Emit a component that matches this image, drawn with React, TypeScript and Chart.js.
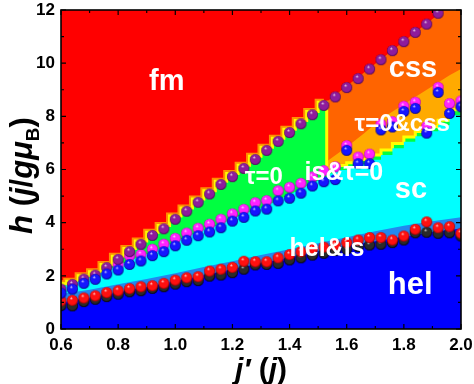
import React, { useEffect, useRef } from 'react';
import { Chart, registerables } from 'chart.js';

Chart.register(...registerables);

// ---------- data ----------
const xGrid = [0.60,0.64,0.68,0.72,0.76,0.80,0.84,0.88,0.92,0.96,1.00,1.04,1.08,1.12,1.16,1.20,1.24,1.28,1.32,1.36,1.40,1.44,1.48,1.52,1.56,1.60,1.64,1.68,1.72,1.76,1.80,1.84,1.88,1.92,1.96,2.00];

const purpleY = [1.50,1.68,1.88,2.03,2.31,2.62,2.91,3.19,3.52,3.77,4.13,4.43,4.77,5.08,5.44,5.73,6.04,6.38,6.72,7.06,7.39,7.72,8.06,8.41,8.73,9.08,9.42,9.78,10.13,10.47,10.81,11.16,11.47,11.88,null,null];
const magentaY = [null,null,null,null,null,2.42,2.75,2.80,3.00,3.19,3.41,3.61,3.79,3.94,4.13,4.33,4.50,4.75,4.83,5.20,5.33,5.48,5.72,5.96,6.10,6.90,6.47,6.58,7.70,7.80,8.38,8.53,7.62,9.09,8.48,8.58];
const blueY = [1.35,1.50,1.72,1.87,2.07,2.22,2.43,2.56,2.76,2.91,3.13,3.34,3.51,3.65,3.81,4.06,4.20,4.44,4.51,4.82,4.92,5.11,5.38,5.54,5.62,6.72,6.22,6.22,7.49,7.60,8.18,8.30,7.37,8.90,8.11,8.36];
const redY = [1.06,1.08,1.17,1.25,1.37,1.44,1.52,1.59,1.63,1.72,1.84,1.93,1.97,2.18,2.25,2.32,2.55,2.53,2.53,2.68,2.80,2.91,3.00,3.08,3.15,3.25,3.35,3.44,3.44,3.35,3.50,3.75,4.03,3.81,3.85,3.60];
const blackY = [0.88,0.87,1.03,1.12,1.22,1.31,1.40,1.44,1.53,1.59,1.69,1.78,1.82,1.99,2.03,2.12,2.25,2.41,2.43,2.47,2.60,2.68,2.78,2.85,2.95,3.00,3.10,3.16,3.19,3.25,3.35,3.62,3.64,3.60,3.62,3.50];

// phase boundaries
const fmTopX = [0.6, 2.0];
const fmTopY = [12, 12];
const cssTopX = [1.53, 2.02];
const cssTopY = [8.55, 12.67];
const goldTopX = [1.53, 1.60, 1.66, 1.72, 1.80, 1.88, 1.96, 2.02];
const goldTopY = [6.30, 6.85, 7.35, 7.90, 8.45, 9.00, 9.55, 9.90];
const greenTopX = [0.60,0.64,0.68,0.72,0.76,0.80,0.84,0.88,0.92,0.96,1.00,1.04,1.08,1.12,1.16,1.20,1.24,1.28,1.32,1.36,1.40,1.44,1.48,1.52,1.54,1.58,1.62,1.66,1.70,1.74,1.78,1.82,1.86,1.90,1.94,1.98,2.02];
const greenTopY = [1.70,1.80,2.00,2.15,2.43,2.74,3.03,3.31,3.64,3.89,4.25,4.55,4.89,5.20,5.56,5.85,6.16,6.50,6.84,7.18,7.51,7.84,8.18,8.53,6.05,6.15,6.25,6.38,6.55,6.73,6.98,7.22,7.43,7.62,7.85,8.25,8.45];
const greenLeftCount = 24;
const cyanLX = [0.60,0.68,0.76,0.84,0.92,1.00,1.08,1.16,1.24,1.32,1.40,1.48,1.545];
const cyanLY = [1.58,1.85,2.20,2.58,2.90,3.28,3.65,3.95,4.33,4.65,5.05,5.48,5.80];
const cyanRX = [1.54,1.58,1.62,1.66,1.70,1.74,1.78,1.82,1.86,1.90,1.94,1.98,2.02];
const cyanRY = [5.85,5.98,6.08,6.20,6.37,6.55,6.80,7.04,7.25,7.44,7.67,8.05,8.27];
const helX = [0.60,0.70,0.80,0.90,1.00,1.10,1.20,1.30,1.40,1.50,1.60,1.70,1.80,1.90,2.00];
const helIsTopY = [1.32,1.48,1.68,1.88,2.10,2.33,2.55,2.78,3.00,3.23,3.45,3.68,3.88,4.05,4.20];
const helTopY = [1.00,1.18,1.38,1.58,1.80,2.02,2.25,2.47,2.69,2.92,3.12,3.30,3.47,3.65,3.78];

// axes
const xMajorTicks = [0.6, 0.8, 1.0, 1.2, 1.4, 1.6, 1.8, 2.0];
const xMinorTicks = [0.7, 0.9, 1.1, 1.3, 1.5, 1.7, 1.9];
const yMajorTicks = [0, 2, 4, 6, 8, 10, 12];
const yMinorTicks = [1, 3, 5, 7, 9, 11];

// phase labels
const phaseText = ['fm', 'css', 'τ=0&css', 'τ=0', 'is&τ=0', 'sc', 'hel&is', 'hel'];
const phaseX = [0.97, 1.832, 1.794, 1.31, 1.59, 1.825, 1.531, 1.822];
const phaseY = [9.3, 9.78, 7.71, 5.72, 5.87, 5.23, 3.01, 1.62];
const phaseSize = [29, 29, 24, 24, 25, 29, 25, 31];

const FONT = '"Liberation Sans", Arial, "DejaVu Sans", sans-serif';

function sphere(base: string, edge: string, r: number): HTMLCanvasElement {
  const s = Math.ceil(r * 2) + 2;
  const c = document.createElement('canvas');
  c.width = s;
  c.height = s;
  const g = c.getContext('2d') as CanvasRenderingContext2D;
  const cx = s / 2, cy = s / 2;
  const grad = g.createRadialGradient(cx - r * 0.25, cy - r * 0.45, 0, cx, cy, r);
  grad.addColorStop(0, '#ffffff');
  grad.addColorStop(0.28, base);
  grad.addColorStop(0.8, base);
  grad.addColorStop(1, edge);
  g.fillStyle = grad;
  g.beginPath();
  g.arc(cx, cy, r, 0, Math.PI * 2);
  g.fill();
  return c;
}

function pairs(xs: number[], ys: (number | null)[]) {
  const out: { x: number; y: number }[] = [];
  xs.forEach((x, i) => {
    const y = ys[i];
    if (y !== null && y !== undefined) out.push({ x, y });
  });
  return out;
}

function area(xs: number[], ys: number[], color: string, order: number, stepped: any = false) {
  return {
    data: pairs(xs, ys),
    fill: 'origin',
    backgroundColor: color,
    borderColor: 'rgba(0,0,0,0)',
    borderWidth: 0,
    pointRadius: 0,
    tension: 0,
    stepped,
    order,
    clip: 0,
  };
}

function dots(ys: (number | null)[], base: string, edge: string, order: number) {
  return {
    data: pairs(xGrid, ys),
    showLine: false,
    pointStyle: sphere(base, edge, 5.5),
    pointRadius: 5.5,
    order,
    clip: 0,
  };
}

function drawRich(ctx: CanvasRenderingContext2D, parts: any[], size: number) {
  const fonts = parts.map(p => `${p.i ? 'italic ' : ''}bold ${p.sub ? Math.round(size * 0.62) : size}px ${FONT}`);
  const widths = parts.map((p, k) => { ctx.font = fonts[k]; return ctx.measureText(p.t).width; });
  const total = widths.reduce((a, b) => a + b, 0);
  let x = -total / 2;
  ctx.textBaseline = 'alphabetic';
  ctx.textAlign = 'left';
  parts.forEach((p, k) => {
    ctx.font = fonts[k];
    ctx.fillText(p.t, x, size * 0.36 + (p.sub ? size * 0.22 : 0));
    x += widths[k];
  });
}

const decorPlugin = {
  id: 'decor',
  afterDatasetsDraw(chart: any) {
    const { ctx, chartArea: a, scales } = chart;
    const sx = scales.x, sy = scales.y;
    ctx.save();
    // phase labels
    ctx.fillStyle = '#ffffff';
    ctx.textAlign = 'center';
    ctx.textBaseline = 'middle';
    phaseText.forEach((t, i) => {
      ctx.font = `bold ${phaseSize[i]}px ${FONT}`;
      ctx.fillText(t, sx.getPixelForValue(phaseX[i]), sy.getPixelForValue(phaseY[i]));
    });
    // frame
    ctx.strokeStyle = '#000';
    ctx.lineWidth = 1.6;
    ctx.strokeRect(a.left, a.top, a.right - a.left, a.bottom - a.top);
    ctx.lineWidth = 1.2;
    ctx.beginPath();
    const tx = (v: number, len: number) => {
      const p = sx.getPixelForValue(v);
      ctx.moveTo(p, a.bottom); ctx.lineTo(p, a.bottom - len);
      ctx.moveTo(p, a.top); ctx.lineTo(p, a.top + len);
    };
    const ty = (v: number, len: number) => {
      const p = sy.getPixelForValue(v);
      ctx.moveTo(a.left, p); ctx.lineTo(a.left + len, p);
      ctx.moveTo(a.right, p); ctx.lineTo(a.right - len, p);
    };
    xMajorTicks.forEach(v => tx(v, 5));
    xMinorTicks.forEach(v => tx(v, 3));
    yMajorTicks.forEach(v => ty(v, 5));
    yMinorTicks.forEach(v => ty(v, 3));
    ctx.stroke();
    ctx.restore();
  },
  afterDraw(chart: any) {
    const { ctx, chartArea: a } = chart;
    ctx.save();
    ctx.fillStyle = '#000';
    // x title
    ctx.save();
    ctx.translate((a.left + a.right) / 2, 368);
    drawRich(ctx, [{ t: 'j′', i: true }, { t: ' (' }, { t: 'j', i: true }, { t: ')' }], 30);
    ctx.restore();
    // y title
    ctx.save();
    ctx.translate(21, (a.top + a.bottom) / 2 + 6);
    ctx.rotate(-Math.PI / 2);
    drawRich(ctx, [{ t: 'h', i: true }, { t: ' (' }, { t: 'j', i: true }, { t: '/' }, { t: 'gμ', i: true }, { t: 'B', sub: true }, { t: ')' }], 31);
    ctx.restore();
    ctx.restore();
  },
};

export default function App() {
  const ref = useRef<HTMLCanvasElement | null>(null);

  useEffect(() => {
    if (!ref.current) return;
    const datasets: any[] = [
      area(fmTopX, fmTopY, '#FF0000', 50),
      area(cssTopX, cssTopY, '#FF6400', 49),
      area(goldTopX, goldTopY, '#FFAA00', 48),
      {
        data: pairs(greenTopX.slice(0, greenLeftCount), greenTopY.slice(0, greenLeftCount)),
        fill: false,
        borderColor: '#FF9000',
        borderWidth: 7,
        pointRadius: 0,
        stepped: 'middle',
        order: 47,
        clip: 0,
      },
      {
        ...area(greenTopX, greenTopY, '#00FF40', 46, 'middle'),
        borderColor: '#FFFF00',
        borderWidth: 3,
      },
      area(cyanLX, cyanLY, '#00FFFF', 45),
      area(cyanRX, cyanRY, '#00FFFF', 44, 'middle'),
      area(helX, helIsTopY, '#2288EE', 43),
      area(helX, helTopY, '#0000FF', 42),
      dots(blackY, '#2a2a2a', '#000000', 7),
      dots(redY, '#FF1010', '#A00000', 6),
      dots(magentaY, '#FF22FF', '#A800A8', 5),
      dots(purpleY, '#8E1C9C', '#48004F', 4),
      dots(blueY, '#1515FF', '#00007A', 3),
    ];

    const tickFont = { family: FONT, size: 17, weight: 'bold' as const };
    const chart = new Chart(ref.current, {
      type: 'line',
      data: { datasets },
      options: {
        animation: false,
        responsive: false,
        events: [],
        layout: { padding: { left: 0, right: 13, top: 10, bottom: 0 } },
        plugins: {
          legend: { display: false },
          tooltip: { enabled: false },
          filler: { propagate: false },
        },
        scales: {
          x: {
            type: 'linear',
            min: 0.6,
            max: 2.0,
            afterFit: (s: any) => { s.height = 55; s.paddingLeft = 0; s.paddingRight = 0; },
            afterBuildTicks: (s: any) => { s.ticks = xMajorTicks.map(v => ({ value: v })); },
            grid: { display: false, drawTicks: false },
            border: { display: false },
            ticks: {
              font: tickFont,
              color: '#000',
              padding: 6,
              maxRotation: 0,
              autoSkip: false,
              callback: (v: any) => Number(v).toFixed(1),
            },
          },
          y: {
            type: 'linear',
            min: 0,
            max: 12,
            afterFit: (s: any) => { s.width = 61; s.paddingTop = 0; s.paddingBottom = 0; },
            afterBuildTicks: (s: any) => { s.ticks = yMajorTicks.map(v => ({ value: v })); },
            grid: { display: false, drawTicks: false },
            border: { display: false },
            ticks: {
              font: tickFont,
              color: '#000',
              padding: 6,
              autoSkip: false,
              callback: (v: any) => String(v),
            },
          },
        },
      } as any,
      plugins: [decorPlugin],
    });
    return () => chart.destroy();
  }, []);

  return (
    <div style={{ position: 'fixed', left: 0, top: 0, width: 474, height: 384, background: '#fff' }}>
      <canvas ref={ref} width={474} height={384} style={{ display: 'block' }} />
    </div>
  );
}
